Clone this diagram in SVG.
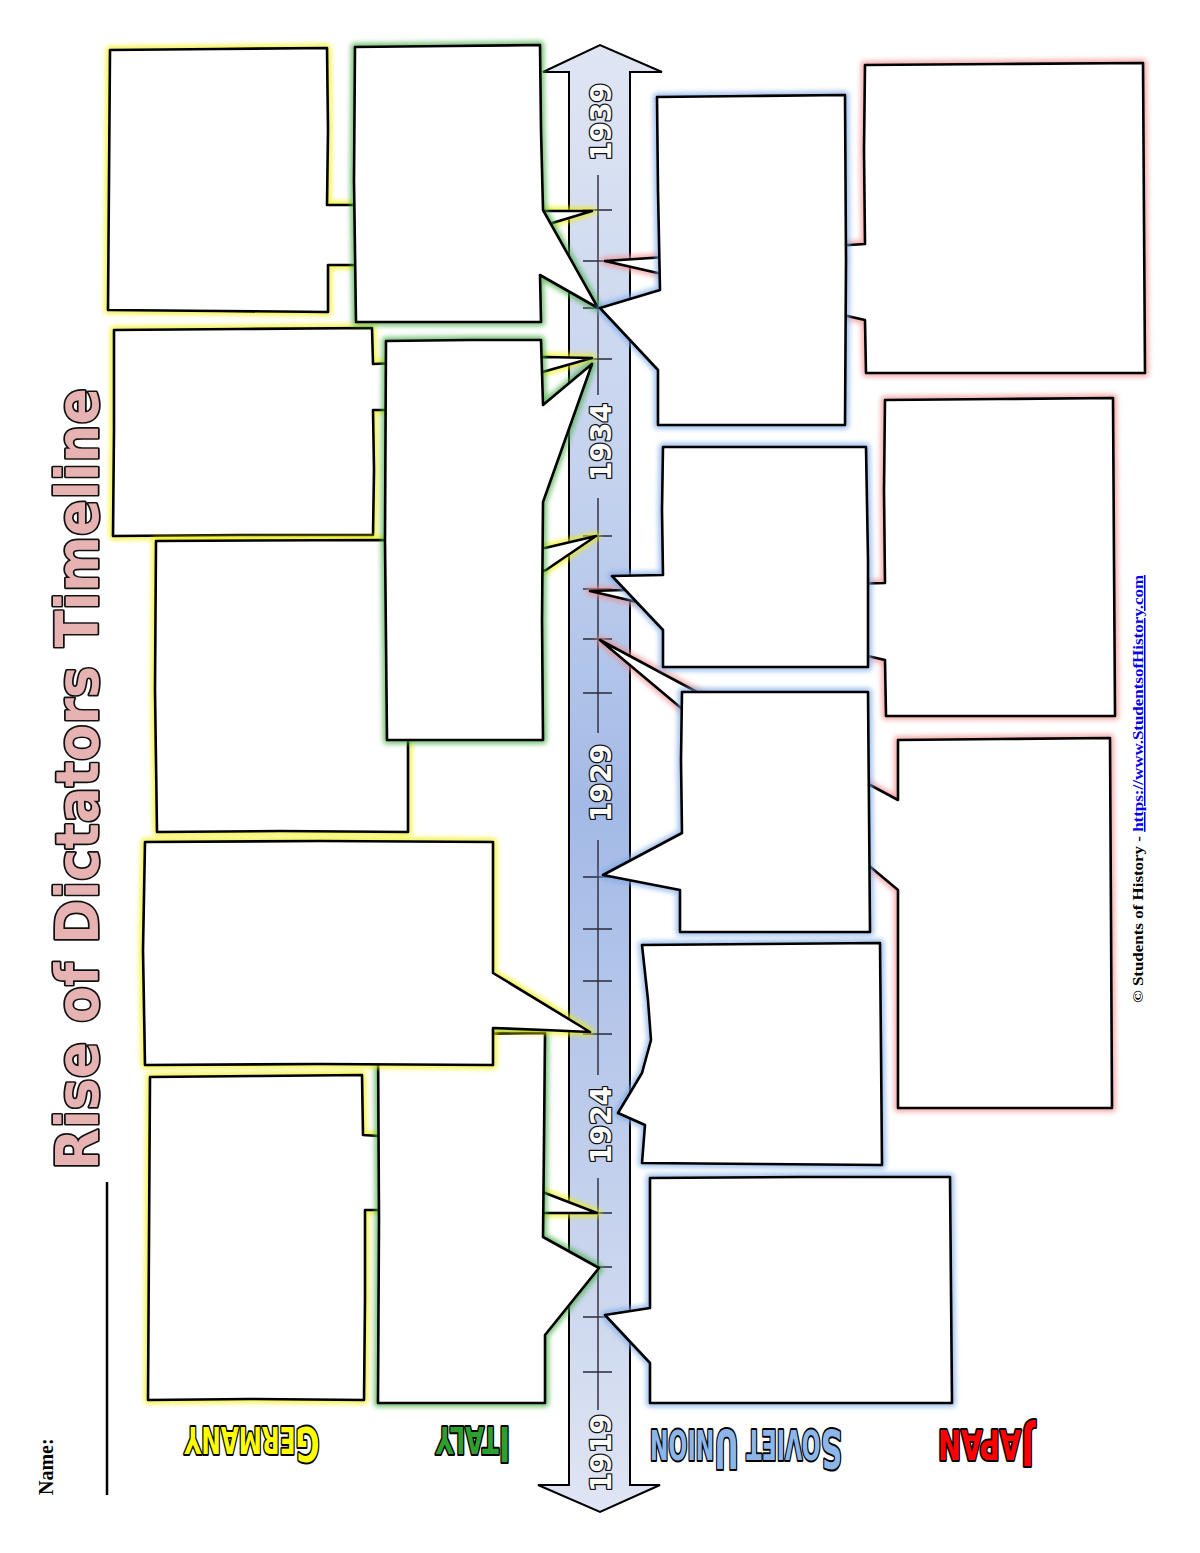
<svg xmlns="http://www.w3.org/2000/svg" xmlns:xlink="http://www.w3.org/1999/xlink" width="1200" height="1553" viewBox="0 0 1200 1553">
<style>
.bx{fill:#fff;stroke:#000;stroke-width:2.6;stroke-linejoin:round}
.glow{fill:none;stroke-width:8;stroke-linejoin:round;stroke-opacity:0.7;filter:url(#blur)}
.gy{stroke:#f0ee00}.gi{stroke:#3faa3f}.gs{stroke:#78a6e6}.gj{stroke:#ef8a8a}
.axis{stroke:#2a2a3a;stroke-width:1.4;fill:none}
.yr{font-family:"DejaVu Sans",sans-serif;font-weight:bold;font-size:29px;fill:#fff;stroke:#111;stroke-width:2.6;paint-order:stroke;stroke-linejoin:round}
.ctry{font-family:"DejaVu Sans",sans-serif;font-weight:bold;stroke:#000;stroke-width:4;paint-order:stroke;stroke-linejoin:round}
.title{font-family:"DejaVu Sans",sans-serif;font-weight:bold;font-size:58px;fill:#e6b2b2;stroke:#111;stroke-width:3.5;paint-order:stroke;stroke-linejoin:round}
.serif{font-family:"Liberation Serif","Times New Roman",serif;font-weight:bold}
</style>
<defs>
<linearGradient id="shaftGrad" x1="0" y1="45" x2="0" y2="1512" gradientUnits="userSpaceOnUse">
<stop offset="0" stop-color="#dfe5f3"/>
<stop offset="0.3" stop-color="#c4d2ee"/>
<stop offset="0.52" stop-color="#a3bae6"/>
<stop offset="0.72" stop-color="#bccbeb"/>
<stop offset="1" stop-color="#dfe5f3"/>
</linearGradient>
<filter id="blur" x="-15%" y="-15%" width="130%" height="130%"><feGaussianBlur stdDeviation="2.5"/></filter>
<path id="pG1" d="M110,50 L218,49 L327,48 L328,130 L327,205 L470,205 L546,211 L592,211 L549,224 L470,265 L328,265 L328,312 L220,311 L108,310 L109,180 Z"/>
<path id="pG2" d="M114,330 L240,329 L372,328 L373,364 L545,357 L592,358 L546,371 L390,410 L373,410 L374,470 L373,535 L240,535 L113,536 L114,430 Z"/>
<path id="pG3" d="M156,541 L385,540 L545,548 L596,536 L546,570 L408,610 L408,832 L280,831 L157,832 L155,690 Z"/>
<path id="pG4" d="M145,842 L320,841 L493,842 L493,973 L590,1032 L545,1030 L493,1028 L493,1065 L320,1064 L145,1065 L143,950 Z"/>
<path id="pG5" d="M150,1077 L260,1076 L362,1075 L363,1135 L378,1136 L545,1193 L597,1213 L545,1213 L378,1210 L365,1210 L365,1300 L364,1400 L250,1399 L148,1400 L149,1240 Z"/>
<path id="pI1" d="M355,47 L450,46 L540,45 L541,130 L543,210 L598,308 L540,275 L541,322 L450,322 L356,322 L354,180 Z"/>
<path id="pI2" d="M386,341 L470,340 L541,340 L543,405 L592,364 L543,502 L542,620 L543,740 L460,740 L387,740 L385,540 Z"/>
<path id="pI3" d="M378,1035 L545,1033 L544,1140 L543,1237 L599,1268 L545,1335 L545,1403 L460,1403 L378,1403 L379,1220 Z"/>
<path id="pS1" d="M657,97 L750,96 L845,95 L846,260 L845,425 L750,425 L658,425 L658,370 L600,308 L660,290 L658,190 Z"/>
<path id="pS2" d="M663,447 L770,447 L866,447 L868,560 L868,667 L760,667 L663,667 L663,630 L612,576 L663,575 L662,510 Z"/>
<path id="pS3" d="M682,692 L780,692 L868,692 L869,810 L870,932 L780,932 L680,932 L680,890 L603,875 L682,833 L681,760 Z"/>
<path id="pS4" d="M642,945 L760,944 L880,943 L881,1050 L882,1165 L760,1164 L642,1163 L645,1125 L618,1113 L642,1073 L651,1040 L648,1000 Z"/>
<path id="pS5" d="M650,1178 L800,1177 L950,1177 L951,1290 L952,1403 L800,1403 L650,1403 L650,1363 L605,1315 L650,1308 L650,1240 Z"/>
<path id="pJ1" d="M865,65 L1000,64 L1143,63 L1144,220 L1145,373 L1000,373 L866,373 L865,320 L605,261 L865,244 L864,150 Z"/>
<path id="pJ2" d="M885,400 L1000,399 L1113,398 L1114,560 L1115,716 L1000,716 L886,716 L885,660 L590,591 L885,583 L884,490 Z"/>
<path id="pJ3" d="M898,740 L1000,739 L1110,738 L1111,920 L1112,1108 L1000,1108 L898,1108 L898,890 L600,640 L898,800 Z"/>
</defs>
<rect x="0" y="0" width="1200" height="1553" fill="#fff"/>

<g id="title">
<text class="title" transform="translate(98,1170) rotate(-90)" textLength="782" lengthAdjust="spacingAndGlyphs">Rise of Dictators Timeline</text>
</g>

<g id="name-field">
<text class="serif" font-size="20" fill="#000" transform="translate(53,1495) rotate(-90)">Name:</text>
<line x1="107" y1="1182" x2="107" y2="1495" stroke="#000" stroke-width="2.5"/>
</g>

<g id="timeline">
<path d="M569,72 L543,72 L600,45 L662,72 L630,72 L630,1485 L660,1485 L600,1512 L538,1485 L569,1485 Z" fill="url(#shaftGrad)" stroke="#000" stroke-width="2" stroke-linejoin="miter"/>
<path class="axis" d="M598,175 V395 M598,498 V733 M598,840 V1075 M598,1178 V1410"/>
<path class="axis" d="M583,210 H612 M583,261 H612 M583,308 H612 M583,359 H612 M583,536 H612 M583,589 H612 M583,639 H612 M583,693 H612 M583,877 H612 M583,929 H612 M583,981 H612 M583,1034 H612 M583,1213 H612 M583,1267 H612 M583,1317 H612 M583,1372 H612"/>
<text class="yr" text-anchor="middle" textLength="78" lengthAdjust="spacingAndGlyphs" transform="translate(611,122) rotate(-90)">1939</text>
<text class="yr" text-anchor="middle" textLength="78" lengthAdjust="spacingAndGlyphs" transform="translate(611,442) rotate(-90)">1934</text>
<text class="yr" text-anchor="middle" textLength="78" lengthAdjust="spacingAndGlyphs" transform="translate(611,783) rotate(-90)">1929</text>
<text class="yr" text-anchor="middle" textLength="78" lengthAdjust="spacingAndGlyphs" transform="translate(611,1125) rotate(-90)">1924</text>
<text class="yr" text-anchor="middle" textLength="78" lengthAdjust="spacingAndGlyphs" transform="translate(611,1453) rotate(-90)">1919</text>
</g>

<g id="germany-1"><use xlink:href="#pG1" href="#pG1" class="glow gy"/><use xlink:href="#pG1" href="#pG1" class="bx"/></g>
<g id="germany-2"><use xlink:href="#pG2" href="#pG2" class="glow gy"/><use xlink:href="#pG2" href="#pG2" class="bx"/></g>
<g id="germany-3"><use xlink:href="#pG3" href="#pG3" class="glow gy"/><use xlink:href="#pG3" href="#pG3" class="bx"/></g>
<g id="germany-5"><use xlink:href="#pG5" href="#pG5" class="glow gy"/><use xlink:href="#pG5" href="#pG5" class="bx"/></g>
<g id="japan-1"><use xlink:href="#pJ1" href="#pJ1" class="glow gj"/><use xlink:href="#pJ1" href="#pJ1" class="bx"/></g>
<g id="japan-2"><use xlink:href="#pJ2" href="#pJ2" class="glow gj"/><use xlink:href="#pJ2" href="#pJ2" class="bx"/></g>
<g id="japan-3"><use xlink:href="#pJ3" href="#pJ3" class="glow gj"/><use xlink:href="#pJ3" href="#pJ3" class="bx"/></g>
<g id="italy-1"><use xlink:href="#pI1" href="#pI1" class="glow gi"/><use xlink:href="#pI1" href="#pI1" class="bx"/></g>
<g id="italy-2"><use xlink:href="#pI2" href="#pI2" class="glow gi"/><use xlink:href="#pI2" href="#pI2" class="bx"/></g>
<g id="italy-3"><use xlink:href="#pI3" href="#pI3" class="glow gi"/><use xlink:href="#pI3" href="#pI3" class="bx"/></g>
<g id="germany-4"><use xlink:href="#pG4" href="#pG4" class="glow gy"/><use xlink:href="#pG4" href="#pG4" class="bx"/></g>
<g id="soviet-1"><use xlink:href="#pS1" href="#pS1" class="glow gs"/><use xlink:href="#pS1" href="#pS1" class="bx"/></g>
<g id="soviet-2"><use xlink:href="#pS2" href="#pS2" class="glow gs"/><use xlink:href="#pS2" href="#pS2" class="bx"/></g>
<g id="soviet-3"><use xlink:href="#pS3" href="#pS3" class="glow gs"/><use xlink:href="#pS3" href="#pS3" class="bx"/></g>
<g id="soviet-4"><use xlink:href="#pS4" href="#pS4" class="glow gs"/><use xlink:href="#pS4" href="#pS4" class="bx"/></g>
<g id="soviet-5"><use xlink:href="#pS5" href="#pS5" class="glow gs"/><use xlink:href="#pS5" href="#pS5" class="bx"/></g>

<g id="labels">
<text class="ctry" fill="#ffff00" text-anchor="middle" transform="translate(252,1427) rotate(180) scale(0.61,1)"><tspan font-size="48">G</tspan><tspan font-size="38">ERMANY</tspan></text>
<text class="ctry" fill="#2e9e2e" text-anchor="middle" transform="translate(473,1427) rotate(180) scale(0.64,1)"><tspan font-size="48">I</tspan><tspan font-size="38">TALY</tspan></text>
<text class="ctry" fill="#8cb6ea" text-anchor="middle" transform="translate(746,1430) rotate(180) scale(0.556,1)"><tspan font-size="54">S</tspan><tspan font-size="40">OVIET </tspan><tspan font-size="54">U</tspan><tspan font-size="40">NION</tspan></text>
<text class="ctry" fill="#ff0000" text-anchor="middle" transform="translate(986,1430) rotate(180) scale(0.685,1)"><tspan font-size="50">J</tspan><tspan font-size="40">APAN</tspan></text>
</g>

<g id="credit">
<text class="serif" font-size="15" transform="translate(1143,1003) rotate(-90)" textLength="428" lengthAdjust="spacingAndGlyphs"><tspan fill="#000">© Students of History - </tspan><tspan fill="#0000ee" text-decoration="underline">https://www.StudentsofHistory.com</tspan></text>
</g>
</svg>
